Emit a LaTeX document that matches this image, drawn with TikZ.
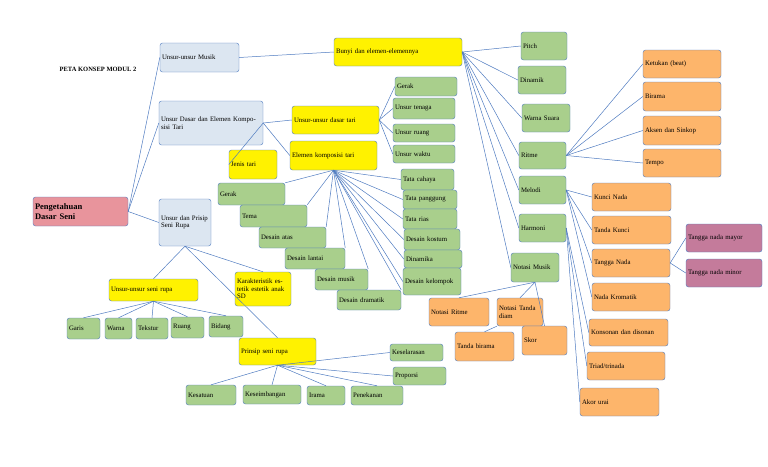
\documentclass[tikz,border=0pt]{standalone}
\usepackage{fontspec}
\setmainfont{Liberation Serif}
\usetikzlibrary{positioning}
\definecolor{lineblue}{HTML}{4F7BC0}
\definecolor{cpink}{HTML}{E8949C}
\definecolor{cgrey}{HTML}{DCE6F1}
\definecolor{cgreen}{HTML}{A9CF8C}
\definecolor{corange}{HTML}{FDB56B}
\definecolor{cpurple}{HTML}{C47B9B}
\tikzset{
  box/.style={draw=lineblue, rounded corners=2.5pt, inner sep=1.5pt, align=left,
    font=\fontsize{6.8}{7.4}\selectfont},
  grey/.style={box, fill=cgrey},
  yel/.style={box, fill=yellow},
  grn/.style={box, fill=cgreen},
  org/.style={box, fill=corange},
  pur/.style={box, fill=cpurple},
  pnk/.style={box, fill=cpink, font=\bfseries\fontsize{8.5}{9.5}\selectfont},
  link/.style={draw=lineblue, line width=0.5pt}
}
% box from its corners in pixels
\newcommand\bx[7]{%
  \pgfmathsetmacro\bw{#5-#3}\pgfmathsetmacro\bh{#6-#4}\pgfmathsetmacro\tw{#5-#3-4}%
  \node[#2, minimum width=\bw pt, minimum height=\bh pt, text width=\tw pt]
    (#1) at ({(#3+#5)/2},{(#4+#6)/2}) {#7};}
\begin{document}
\begin{tikzpicture}[x=1pt, y=-1pt]
  \useasboundingbox (0,0) rectangle (768,466);
  \node[font=\bfseries\fontsize{6.5}{7}\selectfont] (title) at (98,69) {PETA KONSEP MODUL 2};
  % main branches
  \bx{peng}{pnk}{33}{197}{128}{226}{Pengetahuan\\Dasar Seni}
  \bx{musik}{grey}{160}{43}{239}{72}{Unsur-unsur Musik}
  \bx{tari}{grey}{159}{101}{263}{145}{Unsur Dasar dan Elemen Komposisi Tari}
  \bx{rupa}{grey}{159}{199}{211}{246}{Unsur dan Prisip Seni Rupa}
  % tari
  \bx{bunyi}{yel}{334}{38}{462}{66}{Bunyi dan elemen-elemennya}
  \bx{dasar}{yel}{292}{106}{379}{134}{Unsur-unsur dasar tari}
  \bx{elemen}{yel}{290}{141}{377}{170}{Elemen komposisi tari}
  \bx{jenis}{yel}{229}{150}{277}{179}{Jenis tari}
  \bx{gerakA}{grn}{395}{77}{457}{96}{Gerak}
  \bx{tenaga}{grn}{393}{98}{455}{119}{Unsur tenaga}
  \bx{ruangA}{grn}{393}{124}{455}{142}{Unsur ruang}
  \bx{waktu}{grn}{393}{145}{455}{163}{Unsur waktu}
  \bx{cahaya}{grn}{401}{169}{454}{190}{Tata cahaya}
  \bx{panggung}{grn}{403}{190}{457}{209}{Tata panggung}
  \bx{rias}{grn}{403}{209}{457}{229}{Tata rias}
  \bx{kostum}{grn}{404}{229}{460}{250}{Desain kostum}
  \bx{dinamika}{grn}{404}{250}{462}{268}{Dinamika}
  \bx{kelompok}{grn}{403}{268}{461}{295}{Desain kelompok}
  \bx{gerakB}{grn}{218}{183}{285}{205}{Gerak}
  \bx{tema}{grn}{240}{205}{307}{227}{Tema}
  \bx{atas}{grn}{259}{227}{326}{248}{Desain atas}
  \bx{lantai}{grn}{285}{248}{345}{269}{Desain lantai}
  \bx{dmusik}{grn}{315}{269}{368}{290}{Desain musik}
  \bx{dramatik}{grn}{337}{290}{401}{310}{Desain dramatik}
  % musik
  \bx{pitch}{grn}{521}{32}{567}{60}{Pitch}
  \bx{dinamik}{grn}{518}{66}{566}{94}{Dinamik}
  \bx{warna}{grn}{522}{104}{570}{132}{Warna Suara}
  \bx{ritme}{grn}{519}{142}{566}{169}{Ritme}
  \bx{melodi}{grn}{519}{176}{566}{204}{Melodi}
  \bx{harmoni}{grn}{519}{214}{566}{242}{Harmoni}
  \bx{notasi}{grn}{511}{253}{559}{282}{Notasi Musik}
  \bx{ketukan}{org}{643}{50}{721}{78}{Ketukan (beat)}
  \bx{birama}{org}{643}{82}{721}{111}{Birama}
  \bx{aksen}{org}{643}{116}{721}{145}{Aksen dan Sinkop}
  \bx{tempo}{org}{643}{149}{721}{177}{Tempo}
  \bx{kunci}{org}{592}{183}{671}{211}{Kunci Nada}
  \bx{tkunci}{org}{592}{216}{671}{244}{Tanda Kunci}
  \bx{tangga}{org}{592}{249}{670}{277}{Tangga Nada}
  \bx{kromatik}{org}{592}{283}{670}{311}{Nada Kromatik}
  \bx{konsonan}{org}{589}{319}{668}{346}{Konsonan dan disonan}
  \bx{triad}{org}{587}{352}{665}{380}{Triad/trinada}
  \bx{akor}{org}{580}{388}{659}{416}{Akor urai}
  \bx{mayor}{pur}{686}{224}{762}{252}{Tangga nada mayor}
  \bx{minor}{pur}{686}{259}{762}{287}{Tangga nada minor}
  \bx{nritme}{org}{429}{298}{489}{326}{Notasi Ritme}
  \bx{ndiam}{org}{497}{298}{543}{326}{Notasi Tanda diam}
  \bx{tbirama}{org}{455}{332}{514}{361}{Tanda birama}
  \bx{skor}{org}{522}{326}{567}{355}{Skor}
  % rupa
  \bx{unsurrupa}{yel}{109}{279}{198}{301}{Unsur-unsur seni rupa}
  \bx{karakter}{yel}{235}{272}{291}{306}{Karakteristik estetik estetik anak SD}
  \bx{prinsip}{yel}{239}{338}{316}{365}{Prinsip seni rupa}
  \bx{garis}{grn}{67}{318}{100}{339}{Garis}
  \bx{warnaR}{grn}{105}{318}{132}{339}{Warna}
  \bx{tekstur}{grn}{136}{318}{168}{339}{Tekstur}
  \bx{ruangR}{grn}{171}{317}{204}{338}{Ruang}
  \bx{bidang}{grn}{209}{316}{243}{337}{Bidang}
  \bx{selaras}{grn}{390}{344}{443}{361}{Keselarasan}
  \bx{proporsi}{grn}{393}{367}{446}{385}{Proporsi}
  \bx{kesatuan}{grn}{186}{385}{236}{405}{Kesatuan}
  \bx{imbang}{grn}{243}{385}{301}{404}{Keseimbangan}
  \bx{irama}{grn}{307}{386}{345}{405}{Irama}
  \bx{tekanan}{grn}{351}{386}{403}{405}{Penekanan}
  % connectors
  \foreach \t in {musik,tari}
    \draw[link] (peng.east) -- (\t.west);
  \draw[link] (peng.east) -- (rupa.west);
  \draw[link] (musik.east) -- (bunyi.west);
  \foreach \t in {dasar,elemen,jenis}
    \draw[link] (tari.east) -- (\t.west);
  \foreach \t in {gerakA,tenaga,ruangA,waktu}
    \draw[link] (dasar.east) -- (\t.west);
  \foreach \t in {cahaya,panggung,rias,kostum,dinamika,kelompok}
    \draw[link] (elemen.south) -- (\t.west);
  \foreach \t in {gerakB,tema,atas,lantai,dmusik,dramatik}
    \draw[link] (elemen.south) -- (\t.north east);
  \foreach \t in {pitch,dinamik,warna,ritme,melodi,harmoni,notasi}
    \draw[link] (bunyi.east) -- (\t.west);
  \foreach \t in {ketukan,birama,aksen,tempo}
    \draw[link] (ritme.east) -- (\t.west);
  \foreach \t in {kunci,tkunci,tangga,kromatik}
    \draw[link] (melodi.east) -- (\t.west);
  \foreach \t in {konsonan,triad,akor}
    \draw[link] (harmoni.east) -- (\t.west);
  \foreach \t in {mayor,minor}
    \draw[link] (tangga.east) -- (\t.west);
  \foreach \t in {nritme,ndiam,skor}
    \draw[link] (notasi.south) -- (\t.north);
  \draw[link] (ndiam.south west) -- (tbirama.north);
  \foreach \t in {unsurrupa,karakter,prinsip}
    \draw[link] (rupa.south) -- (\t.north);
  \foreach \t in {garis,warnaR,tekstur,ruangR,bidang}
    \draw[link] (unsurrupa.south) -- (\t.north);
  \foreach \t in {selaras,proporsi}
    \draw[link] (prinsip.south) -- (\t.west);
  \foreach \t in {kesatuan,imbang,irama,tekanan}
    \draw[link] (prinsip.south) -- (\t.north);
\end{tikzpicture}
\end{document}
